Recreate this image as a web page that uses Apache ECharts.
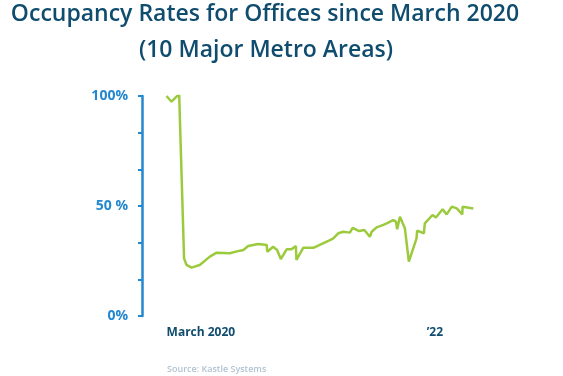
<!DOCTYPE html>
<html>
<head>
<meta charset="utf-8">
<script src="https://cdn.jsdelivr.net/npm/echarts@6/dist/echarts.min.js"></script>
<style>
  html, body { margin: 0; padding: 0; background: #fff; }
  #chart { width: 563px; height: 376px; }
</style>
</head>
<body>
<div id="chart"></div>
<script>
// weeks since early March 2020
const weeks = [0, 1.6, 4.1, 5.7, 6.5, 8.1, 10.8, 14.1, 16.3, 20.6, 23.9, 25, 26.6, 29.8, 32.6, 32.8,
  34.7, 36, 37.2, 39.1, 40.7, 42.1, 42.3, 44.5, 47.8, 53.2, 54.3, 55.9, 57.5, 59.7, 60.6, 62.7,
  64.4, 66.2, 66.8, 68.4, 70.6, 72.2, 73.8, 74.7, 75.1, 76, 76.5, 77.6, 78.9, 81.4, 81.6, 83.8,
  84.1, 86.6, 87.7, 89.9, 91.2, 92.9, 94.5, 96.3, 96.4, 99.9]
// occupancy %
const occupancy = [100, 97.4, 100.9, 26.2, 23.2, 22, 23.2, 27, 28.8, 28.5, 29.7, 30, 31.8, 32.7, 32.3, 29.2,
  31.5, 30, 25.9, 30.3, 30.3, 31.8, 25.5, 31, 31, 34.5, 35.3, 37.6, 38.3, 37.9, 40.1, 38.6,
  39.1, 36, 38.3, 40.3, 41.4, 42.4, 43.6, 42.9, 39.4, 45.1, 44.8, 39.9, 24.7, 35.3, 38.8, 37.6,
  42.1, 45.9, 44.8, 48.5, 46.2, 49.7, 48.9, 46.2, 49.7, 48.9]
const xLabelPos = [0, 84.7]
const xLabels = ['March 2020', '\u201922']
const yLabels = { 0: '0%', 50: '50 %', 100: '100%' }

const titleStyle = { fontFamily: 'Open Sans', fontSize: 23, fontWeight: 600, color: '#0f4c6e' }

const chart = echarts.init(document.getElementById('chart'))
chart.setOption({
  animation: false,
  title: [
    { text: 'Occupancy Rates for Offices since March 2020', left: 260, top: -2, textAlign: 'center', textStyle: titleStyle },
    { text: '(10 Major Metro Areas)', left: 261, top: 34, textAlign: 'center', textStyle: titleStyle },
    {
      text: 'Source: Kastle Systems',
      left: 162, top: 360,
      textStyle: { fontFamily: 'Open Sans', fontSize: 9, fontWeight: 600, color: '#b1c3d1' }
    }
  ],
  grid: { left: 142, right: 74, top: 96, bottom: 60 },
  xAxis: {
    type: 'value',
    min: -8, max: 105,
    axisLine: { show: false },
    axisTick: { show: false },
    splitLine: { show: false },
    axisLabel: {
      customValues: xLabelPos,
      formatter: v => xLabels[xLabelPos.indexOf(v)] || '',
      align: 'left',
      margin: 11,
      fontFamily: 'Open Sans', fontSize: 12, fontWeight: 700, color: '#0f4c6e'
    }
  },
  yAxis: {
    type: 'value',
    min: 0, max: 100, interval: 100 / 6,
    axisLine: { show: true, onZero: false, lineStyle: { color: '#2388cf', width: 2.5 } },
    axisTick: { show: true, length: 4, lineStyle: { color: '#2388cf', width: 2 } },
    splitLine: { show: false },
    axisLabel: {
      formatter: v => yLabels[Math.round(v)] !== undefined && Math.abs(v - Math.round(v)) < 0.01 ? yLabels[Math.round(v)] : '',
      margin: 14,
      fontFamily: 'Open Sans', fontSize: 14, fontWeight: 700, color: '#2388cf'
    }
  },
  series: [{
    type: 'line',
    data: weeks.map((w, i) => [w, occupancy[i]]),
    showSymbol: false,
    lineStyle: { color: '#9bcb3c', width: 2.5 },
    silent: true
  }]
})
</script>
</body>
</html>
